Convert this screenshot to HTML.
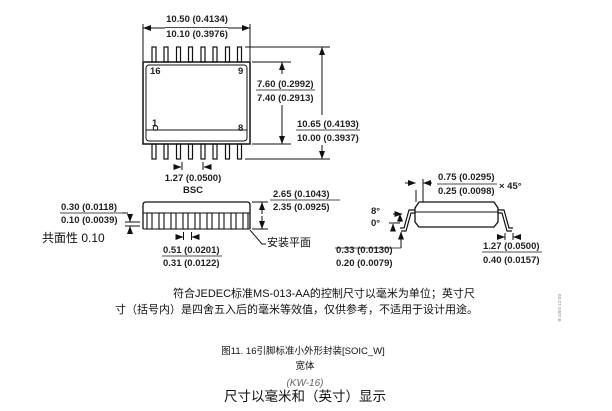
<!DOCTYPE html>
<html><head><meta charset="utf-8"><style>
html,body{margin:0;padding:0;background:#fff;}
svg{display:block;}
.t{font-family:"Liberation Sans","Noto Sans CJK SC",sans-serif;font-weight:bold;font-size:9.5px;fill:#222;}
.c{font-family:"Liberation Sans","Noto Sans CJK SC",sans-serif;fill:#111;}
</style></head><body>
<svg width="612" height="411" viewBox="0 0 612 411" xmlns="http://www.w3.org/2000/svg">
<defs>
<marker id="a" markerWidth="8" markerHeight="6" refX="7.5" refY="3" orient="auto" markerUnits="userSpaceOnUse"><path d="M0,0 L8,3 L0,6 z" fill="#111"/></marker>
</defs>
<g stroke="#111" fill="none" stroke-width="1">
<g fill="#fff" stroke-width="1.2">
<rect x="152" y="47" width="4" height="15"/><rect x="164" y="47" width="4" height="15"/><rect x="176.5" y="47" width="4" height="15"/><rect x="188.5" y="47" width="4" height="15"/><rect x="201" y="47" width="4" height="15"/><rect x="213" y="47" width="4" height="15"/><rect x="225.5" y="47" width="4" height="15"/><rect x="237.5" y="47" width="4" height="15"/>
<rect x="152" y="144" width="4" height="15"/><rect x="164" y="144" width="4" height="15"/><rect x="176.5" y="144" width="4" height="15"/><rect x="188.5" y="144" width="4" height="15"/><rect x="201" y="144" width="4" height="15"/><rect x="213" y="144" width="4" height="15"/><rect x="225.5" y="144" width="4" height="15"/><rect x="237.5" y="144" width="4" height="15"/>
</g>
<rect x="143" y="62" width="107" height="82" stroke-width="1.5"/>
<rect x="146" y="65" width="101" height="76" rx="3"/>
<line x1="146" y1="130" x2="247" y2="130"/>
<circle cx="155.5" cy="128" r="2.3"/>
<line x1="143" y1="24" x2="143" y2="61"/><line x1="250" y1="24" x2="250" y2="61"/>
<line x1="165" y1="28" x2="143.5" y2="28" marker-end="url(#a)"/><line x1="228" y1="28" x2="249.5" y2="28" marker-end="url(#a)"/>
<line x1="165" y1="27.5" x2="228" y2="27.5" stroke-width="0.8"/>
<line x1="252" y1="62" x2="291" y2="62"/><line x1="252" y1="144" x2="291" y2="144"/>
<line x1="282" y1="74" x2="282" y2="62.5" marker-end="url(#a)"/><line x1="282" y1="105" x2="282" y2="143.5" marker-end="url(#a)"/>
<line x1="256" y1="90" x2="315" y2="90" stroke-width="0.8"/>
<line x1="245" y1="47" x2="330" y2="47"/><line x1="245" y1="159" x2="330" y2="159"/>
<line x1="322" y1="115" x2="322" y2="47.5" marker-end="url(#a)"/><line x1="322" y1="145" x2="322" y2="158.5" marker-end="url(#a)"/>
<line x1="296" y1="130" x2="360" y2="130" stroke-width="0.8"/>
<line x1="174" y1="167" x2="181" y2="167" marker-end="url(#a)"/><line x1="211" y1="167" x2="204" y2="167" marker-end="url(#a)"/>
<line x1="182" y1="162" x2="182" y2="170"/><line x1="203" y1="162" x2="203" y2="170"/>
<path d="M143,229 L143,205 Q143,202 146,202 L247,202 Q250,202 250,205 L250,229" stroke-width="1.3"/>
<line x1="143" y1="213" x2="250" y2="213"/>
<g stroke-width="1.1">
<rect x="147" y="213" width="5" height="16"/><rect x="159" y="213" width="5" height="16"/><rect x="171" y="213" width="5" height="16"/><rect x="183" y="213" width="5" height="16"/><rect x="195" y="213" width="5" height="16"/><rect x="207" y="213" width="5" height="16"/><rect x="219" y="213" width="5" height="16"/><rect x="231" y="213" width="5" height="16"/><rect x="243" y="213" width="5" height="16"/>
</g>
<line x1="143" y1="229" x2="250" y2="229"/>
<line x1="252" y1="202" x2="268" y2="202"/><line x1="252" y1="229" x2="268" y2="229"/>
<line x1="262" y1="214" x2="262" y2="202.5" marker-end="url(#a)"/><line x1="262" y1="216" x2="262" y2="228.5" marker-end="url(#a)"/>
<line x1="270" y1="200" x2="340" y2="200" stroke-width="0.8"/>
<line x1="60" y1="213" x2="122" y2="213" stroke-width="0.8"/>
<line x1="122" y1="213" x2="128" y2="213"/>
<line x1="125" y1="222" x2="140" y2="222"/><line x1="125" y1="226" x2="140" y2="226"/>
<line x1="130" y1="214" x2="130" y2="221.5" marker-end="url(#a)"/><line x1="130" y1="234" x2="130" y2="226.5" marker-end="url(#a)"/>
<line x1="177" y1="237" x2="183" y2="237" marker-end="url(#a)"/><line x1="198" y1="237" x2="192" y2="237" marker-end="url(#a)"/>
<line x1="183.5" y1="232" x2="183.5" y2="240"/><line x1="191.5" y1="232" x2="191.5" y2="240"/>
<line x1="162" y1="256" x2="222" y2="256" stroke-width="0.8"/>
<path d="M250,230 L262,244 L266,244"/>
<path d="M419,202 L494,202 L498,208 L498,222 L494,227 L419,227 L415,222 L415,208 Z" stroke-width="1.3"/>
<line x1="415" y1="212" x2="498" y2="212"/>
<path d="M415,210 L409,210 L404,228 L400,228" stroke-width="1.2"/>
<path d="M415,213 L411,213 L406,231 L401,231" stroke-width="1.2"/>
<path d="M498,210 L504,210 L509,228 L513,228" stroke-width="1.2"/>
<path d="M498,213 L502,213 L507,231 L512,231" stroke-width="1.2"/>
<line x1="416" y1="190" x2="416" y2="202"/><line x1="423" y1="179" x2="423" y2="202"/>
<line x1="405" y1="183" x2="415.5" y2="183" marker-end="url(#a)"/><line x1="432" y1="183" x2="423.5" y2="183" marker-end="url(#a)"/>
<line x1="437" y1="184" x2="497" y2="184" stroke-width="0.8"/>
<line x1="393" y1="214" x2="402" y2="214" marker-end="url(#a)"/>
<line x1="389" y1="223" x2="400" y2="223"/>
<line x1="393" y1="230" x2="393" y2="224" marker-end="url(#a)"/>
<line x1="401" y1="240" x2="401" y2="232" marker-end="url(#a)"/>
<line x1="401" y1="240" x2="401" y2="248"/><line x1="335" y1="248" x2="401" y2="248" stroke-width="0.8"/>
<line x1="400" y1="222" x2="400" y2="214" marker-end="url(#a)"/>
<line x1="505" y1="233" x2="505" y2="240"/><line x1="513" y1="233" x2="513" y2="240"/>
<line x1="498" y1="237" x2="504.5" y2="237" marker-end="url(#a)"/><line x1="520" y1="237" x2="513.5" y2="237" marker-end="url(#a)"/>
<line x1="482" y1="252" x2="542" y2="252" stroke-width="0.8"/>
</g>
<text class="t" x="197" y="22" text-anchor="middle">10.50 (0.4134)</text>
<text class="t" x="197" y="37" text-anchor="middle">10.10 (0.3976)</text>
<text class="t" x="150" y="74" font-size="8">16</text>
<text class="t" x="238" y="74" font-size="8">9</text>
<text class="t" x="152" y="126" font-size="8">1</text>
<text class="t" x="238" y="131" font-size="8">8</text>
<text class="t" x="257" y="87">7.60 (0.2992)</text>
<text class="t" x="257" y="101">7.40 (0.2913)</text>
<text class="t" x="297" y="127">10.65 (0.4193)</text>
<text class="t" x="297" y="141">10.00 (0.3937)</text>
<text class="t" x="193" y="181" text-anchor="middle">1.27 (0.0500)</text>
<text class="t" x="193" y="193" text-anchor="middle">BSC</text>
<text class="t" x="273" y="197">2.65 (0.1043)</text>
<text class="t" x="273" y="210">2.35 (0.0925)</text>
<text class="t" x="61" y="210">0.30 (0.0118)</text>
<text class="t" x="61" y="223">0.10 (0.0039)</text>
<text class="c" x="42" y="242" font-size="12">共面性 0.10</text>
<text class="t" x="163" y="253">0.51 (0.0201)</text>
<text class="t" x="163" y="266">0.31 (0.0122)</text>
<text class="c" x="267" y="246" font-size="11">安装平面</text>
<text class="t" x="438" y="180">0.75 (0.0295)</text>
<text class="t" x="438" y="194">0.25 (0.0098)</text>
<text class="t" x="499" y="189" font-size="8">× 45°</text>
<text class="t" x="371" y="214" font-size="8.5">8°</text>
<text class="t" x="371" y="226" font-size="8.5">0°</text>
<text class="t" x="336" y="253">0.33 (0.0130)</text>
<text class="t" x="336" y="266">0.20 (0.0079)</text>
<text class="t" x="483" y="249">1.27 (0.0500)</text>
<text class="t" x="483" y="263">0.40 (0.0157)</text>
<text class="c" x="173" y="297" font-size="11">符合JEDEC标准MS-013-AA的控制尺寸以毫米为单位；英寸尺</text>
<text class="c" x="115" y="313" font-size="11">寸（括号内）是四舍五入后的毫米等效值，仅供参考，不适用于设计用途。</text>
<text class="c" x="303" y="354" font-size="9.5" text-anchor="middle">图11. 16引脚标准小外形封装[SOIC_W]</text>
<text class="c" x="305" y="369" font-size="9.5" text-anchor="middle">宽体</text>
<text class="c" x="305" y="386" font-size="10" font-style="italic" text-anchor="middle" style="fill:#666">(KW-16)</text>
<text class="c" x="305" y="401" font-size="13.5" text-anchor="middle">尺寸以毫米和（英寸）显示</text>
<text class="c" font-size="4.5" transform="translate(558,294) rotate(90)" style="fill:#888">03-27-2007-B</text>
</svg>
</body></html>
